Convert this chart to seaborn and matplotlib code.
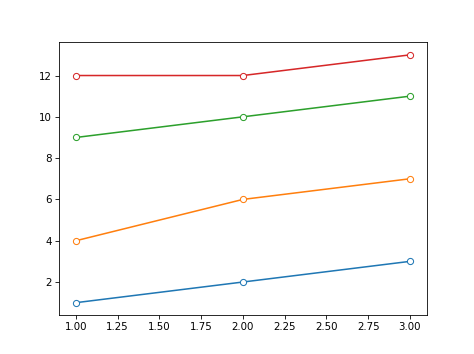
import matplotlib
matplotlib.use("Agg")
import matplotlib.pyplot as plt
import seaborn as sns
import pandas as pd

# ==========================================
# DATA
# ==========================================
x_vals = [1, 2, 3]
series_a = [1, 2, 3]
series_b = [4, 6, 7]
series_c = [9, 10, 11]
series_d = [12, 12, 13]

all_series = [series_a, series_b, series_c, series_d]
colors = sns.color_palette("tab10", 4)

# ==========================================
# PLOT
# ==========================================
fig, ax = plt.subplots(figsize=(474 / 74, 354 / 74), dpi=74)

for vals, col in zip(all_series, colors):
    df = pd.DataFrame({"x": x_vals, "y": vals})
    sns.lineplot(
        data=df, x="x", y="y", ax=ax,
        color=col, marker="o", markersize=6,
        markerfacecolor="white", markeredgecolor=col, markeredgewidth=1.0,
        linewidth=1.5,
    )

ax.set_xlabel("")
ax.set_ylabel("")
fig.subplots_adjust(left=0.125, right=0.9, bottom=0.11, top=0.88)
fig.savefig("out.png", dpi=74)
